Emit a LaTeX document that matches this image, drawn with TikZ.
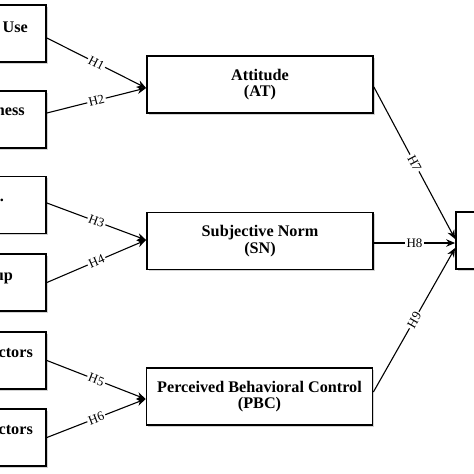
\documentclass[tikz,border=0pt]{standalone}
\usepackage{fontspec}
\setmainfont{Liberation Serif}
\usepackage{tikz}
\usetikzlibrary{arrows.meta,shadows}

\begin{document}
\begin{tikzpicture}[x=1pt,y=-1pt,
                    box/.style={rectangle,draw,fill=white,
                    line width=1.8pt,inner sep=0pt,
                    minimum width=#1,minimum height=57pt,
                    drop shadow={shadow xshift=1.6pt,shadow yshift=-1.6pt,opacity=0.35}},
                    box/.default=226pt,
                    ttl/.style={font=\fontsize{16.2}{16.5}\selectfont\bfseries,align=center,inner sep=0pt},
                    hyp/.style={-{Stealth[length=9pt,width=7.5pt]},line width=1.1pt},
                    lbl/.style={font=\fontsize{13}{13}\selectfont,fill=white,inner sep=1.5pt,sloped}]
    \useasboundingbox (0,0) rectangle (474,474);
    \clip (0,0) rectangle (474,474);

    % left column, cut off by the frame
    \node[box=166pt](n001) at (-37,33.5) {};
    \node[box=166pt](n002) at (-37,119.5) {};
    \node[box=166pt](n003) at (-37,205) {};
    \node[box=166pt](n004) at (-37,282.5) {};
    \node[box=166pt](n005) at (-37,360.5) {};
    \node[box=166pt](n006) at (-37,437.5) {};
    \node[ttl,anchor=east](t001) at (28,27) {Use};
    \node[ttl,anchor=east](t002) at (25,112) {ness};
    \node[ttl,anchor=east](t003) at (4,200) {.};
    \node[ttl,anchor=east](t004) at (13,278) {up};
    \node[ttl,anchor=east](t005) at (33,353) {ctors};
    \node[ttl,anchor=east](t006) at (33,430) {ctors};

    % middle column
    \node[box,ttl](nAT) at (260,84.5) {Attitude\\(AT)};
    \node[box,ttl](nSN) at (260,241) {Subjective Norm\\(SN)};
    \node[box,ttl](nPBC) at (259.5,396.5) {Perceived Behavioral Control\\(PBC)};

    % right box
    \node[box=120pt](nBI) at (516,240.5) {};

    \draw[hyp] ([yshift=-4.5pt]n001.east) -- node[lbl]{H1} ([yshift=-3.5pt]nAT.west);
    \draw[hyp] ([yshift=6.5pt]n002.east) -- node[lbl]{H2} ([yshift=-3.5pt]nAT.west);
    \draw[hyp] ([yshift=2pt]n003.east) -- node[lbl]{H3} ([yshift=1pt]nSN.west);
    \draw[hyp] (n004.east) -- node[lbl]{H4} ([yshift=1pt]nSN.west);
    \draw[hyp] (n005.east) -- node[lbl]{H5} ([yshift=-2.5pt]nPBC.west);
    \draw[hyp] (n006.east) -- node[lbl]{H6} ([yshift=-2.5pt]nPBC.west);
    \draw[hyp] ([yshift=-2.5pt]nAT.east) -- node[lbl]{H7} ([yshift=1.5pt]nBI.west);
    \draw[hyp] ([yshift=-2pt]nSN.east) -- node[lbl]{H8} ([yshift=-2.5pt]nBI.west);
    \draw[hyp] ([yshift=4.5pt]nPBC.east) -- node[lbl]{H9} ([yshift=-7.5pt]nBI.west);

\end{tikzpicture}
\end{document}
